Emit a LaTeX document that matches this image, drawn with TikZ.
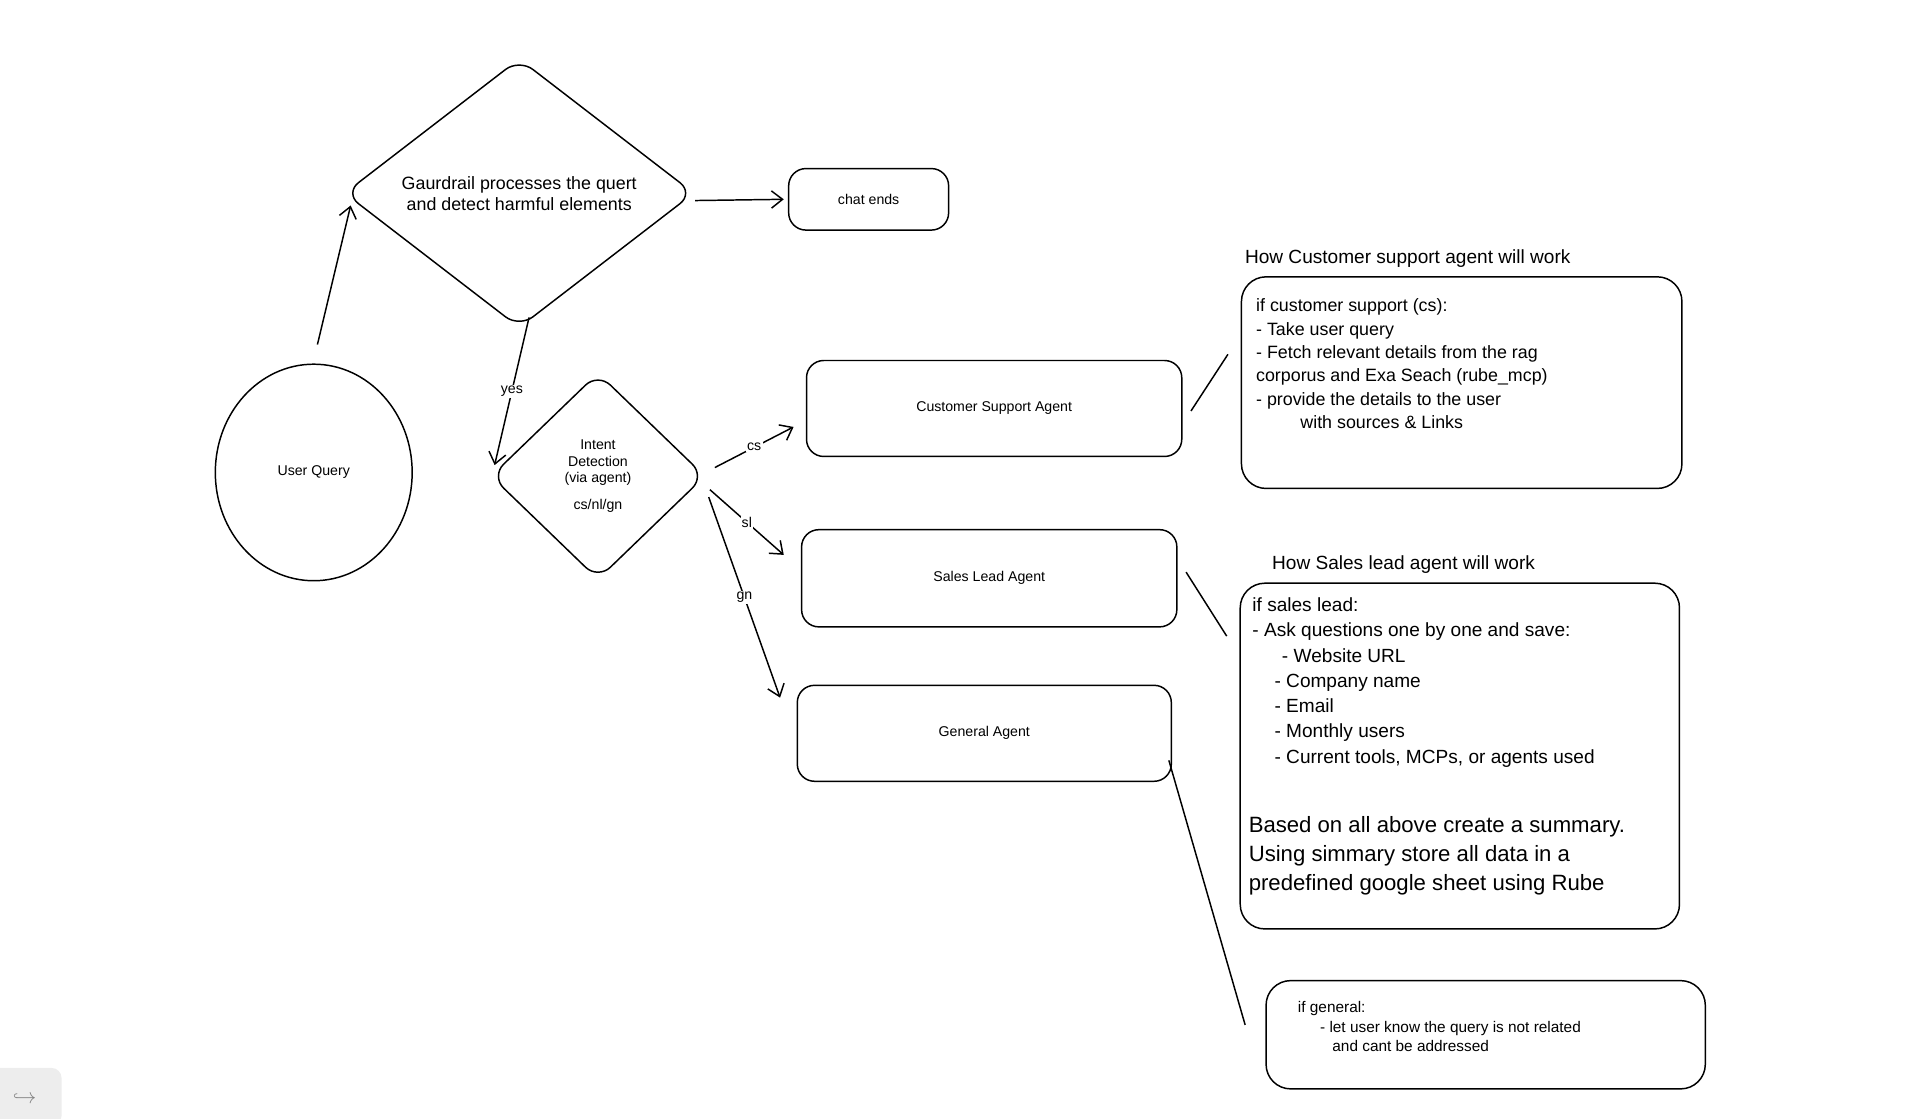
\documentclass[tikz,border=0pt]{standalone}
\usepackage{fontspec}
\setmainfont{Liberation Sans}
\usetikzlibrary{shapes.geometric,arrows.meta}
\begin{document}
\begin{tikzpicture}[x=1pt,y=-1pt,line width=1.2pt,
  box/.style={draw,rounded corners=14pt,inner sep=0pt},
  dia/.style={draw,diamond,rounded corners=14pt,inner sep=0pt},
  arr/.style={-{Straight Barb[length=9pt,width=14pt]}},
  lbl/.style={font=\fontsize{11.5}{13}\selectfont,fill=white,inner sep=1pt},
  t/.style={font=\fontsize{11.5}{13.5}\selectfont,align=center}]
\useasboundingbox (0,0) rectangle (1567,909);
% bottom-left tile
\fill[black!7,rounded corners=8pt] (-10,868) rectangle (50,915);
\node[text=black!50,font=\fontsize{16}{16}\selectfont] (icon) at (20,893) {$\hookrightarrow$};
% nodes
\node[draw,ellipse,minimum width=160pt,minimum height=176pt,t] (uq) at (255,384) {User Query};
\node[dia,minimum width=284pt,minimum height=200pt,align=center,font=\fontsize{14.5}{17}\selectfont] (gd) at (422,157) {Gaurdrail processes the quert\\and detect harmful elements};
\node[box,minimum width=130pt,minimum height=50pt,t] (ce) at (706,162) {chat ends};
\node[dia,minimum width=174pt,minimum height=168pt,t] (id) at (486,387) {Intent\\Detection\\(via agent)\\[8pt]cs/nl/gn};
\node[box,minimum width=305pt,minimum height=78pt,t] (csa) at (808,332) {Customer Support Agent};
\node[box,minimum width=305pt,minimum height=79pt,t] (sla) at (804,470) {Sales Lead Agent};
\node[box,minimum width=304pt,minimum height=78pt,t] (ga) at (800,596) {General Agent};
% right boxes
\draw[rounded corners=20pt] (1009,225) rectangle (1367,397);
\node[anchor=south west,font=\fontsize{15.5}{18}\selectfont] (cst) at (1008,221) {How Customer support agent will work};
\node[anchor=north west,align=left,font=\fontsize{14.5}{19}\selectfont] (csb) at (1017,239) {if customer support (cs):\\- Take user query\\- Fetch relevant details from the rag\\corporus and Exa Seach (rube\_mcp)\\- provide the details to the user\\\hspace{36pt}with sources \& Links};
\draw[rounded corners=20pt] (1008,474) rectangle (1365,755);
\node[anchor=south west,font=\fontsize{15.5}{18}\selectfont] (slt) at (1030,470) {How Sales lead agent will work};
\node[anchor=north west,align=left,font=\fontsize{15.5}{20.5}\selectfont] (slb) at (1014,482) {if sales lead:\\- Ask questions one by one and save:\\\hspace{24pt}- Website URL\\\hspace{18pt}- Company name\\\hspace{18pt}- Email\\\hspace{18pt}- Monthly users\\\hspace{18pt}- Current tools, MCPs, or agents used};
\node[anchor=north west,align=left,font=\fontsize{18}{23.5}\selectfont] (sls) at (1011,660) {Based on all above create a summary.\\Using simmary store all data in a\\predefined google sheet using Rube};
\draw[rounded corners=20pt] (1029,797) rectangle (1386,885);
\node[anchor=north west,align=left,font=\fontsize{12.5}{16}\selectfont] (gb) at (1051,810) {if general:\\\hspace{18pt}- let user know the query is not related\\\hspace{28pt}and cant be addressed};
% connector coordinates
\coordinate (a1) at (258,280); \coordinate (a2) at (285,167);
\coordinate (b1) at (565,163); \coordinate (b2) at (637,162);
\coordinate (c1) at (430,258); \coordinate (c2) at (402,378);
\coordinate (d1) at (581,380); \coordinate (d2) at (645,347);
\coordinate (e1) at (577,398); \coordinate (e2) at (637,451);
\coordinate (f1) at (576,404); \coordinate (f2) at (634,567);
\coordinate (g1) at (968,334); \coordinate (g2) at (998,288);
\coordinate (h1) at (964,465); \coordinate (h2) at (997,517);
\coordinate (i1) at (950,618); \coordinate (i2) at (1012,833);
\draw[arr] (a1) -- (a2);
\draw[arr] (b1) -- (b2);
\draw[arr] (c1) -- node[lbl,pos=0.5] (ly) {yes} (c2);
\draw[arr] (d1) -- node[lbl,pos=0.5] (lcs) {cs} (d2);
\draw[arr] (e1) -- node[lbl,pos=0.5] (lsl) {sl} (e2);
\draw[arr] (f1) -- node[lbl,pos=0.5] (lgn) {gn} (f2);
\draw (g1) -- (g2);
\draw (h1) -- (h2);
\draw (i1) -- (i2);
\end{tikzpicture}
\end{document}
